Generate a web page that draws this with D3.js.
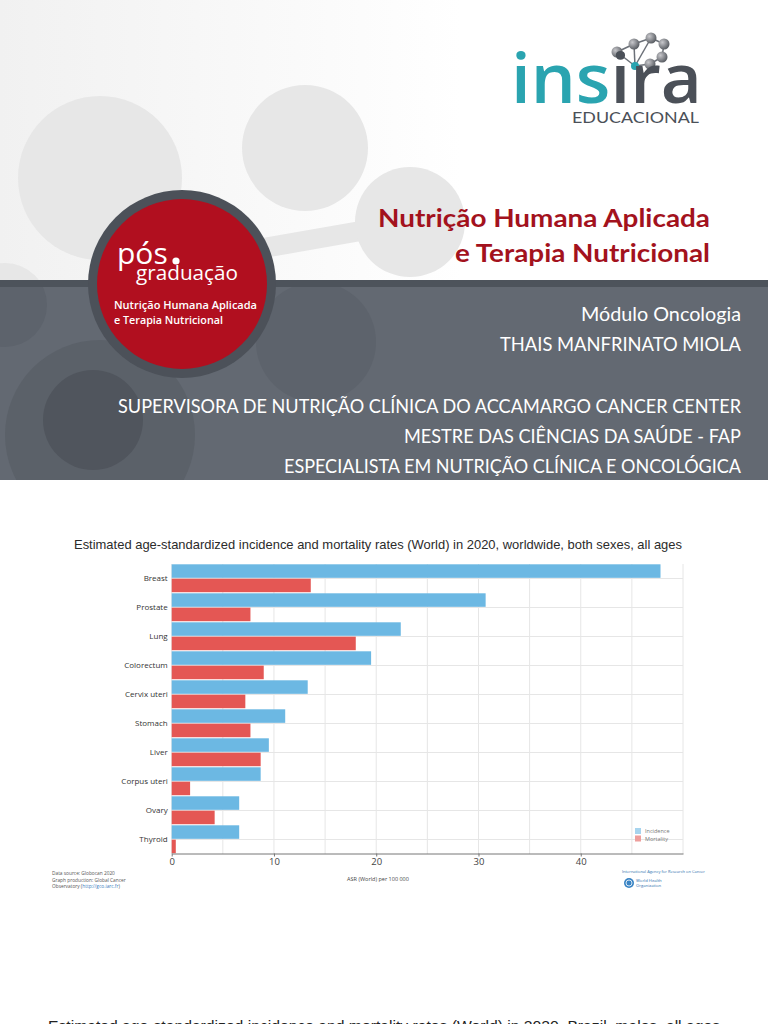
<!DOCTYPE html>
<html>
<head>
<meta charset="utf-8">
<script src="https://cdn.jsdelivr.net/npm/d3@7"></script>
<style>
  html, body { margin: 0; padding: 0; background: #fff; }
  svg { display: block; }
</style>
</head>
<body>
<script>
// ---------- DATA ----------
const categories = ["Breast", "Prostate", "Lung", "Colorectum", "Cervix uteri", "Stomach", "Liver", "Corpus uteri", "Ovary", "Thyroid"];
const incidence  = [47.8, 30.7, 22.4, 19.5, 13.3, 11.1, 9.5, 8.7, 6.6, 6.6];
const mortality  = [13.6, 7.7, 18.0, 9.0, 7.2, 7.7, 8.7, 1.8, 4.2, 0.4];
const seriesNames = ["Incidence", "Mortality"];
const xTickValues = [0, 10, 20, 30, 40];
const gridValues = [0, 5, 10, 15, 20, 25, 30, 35, 40, 45, 50];
const chartTitle = "Estimated age-standardized incidence and mortality rates (World) in 2020, worldwide, both sexes, all ages";
const nextTitle = "Estimated age-standardized incidence and mortality rates (World) in 2020, Brazil, males, all ages";
const xAxisTitle = "ASR (World) per 100 000";
const sourceLines = ["Data source: Globocan 2020", "Graph production: Global Cancer", "Observatory ("];
const slideTitle = ["Nutrição Humana Aplicada", "e Terapia Nutricional"];
const slideInfo = ["Módulo Oncologia", "THAIS MANFRINATO MIOLA"];
const slideCredentials = ["SUPERVISORA DE NUTRIÇÃO CLÍNICA DO ACCAMARGO CANCER CENTER", "MESTRE DAS CIÊNCIAS DA SAÚDE - FAP", "ESPECIALISTA EM NUTRIÇÃO CLÍNICA E ONCOLÓGICA"];

const W = 768, H = 1024;
const svg = d3.select("body").append("svg").attr("width", W).attr("height", H);
const defs = svg.append("defs");

// ---------- SLIDE HEADER ----------
const hdr = svg.append("g");
const grad = defs.append("linearGradient").attr("id", "bgGrad").attr("x1", 0).attr("x2", 1);
grad.append("stop").attr("offset", 0).attr("stop-color", "#f1f1f1");
grad.append("stop").attr("offset", 0.6).attr("stop-color", "#ffffff");
hdr.append("rect").attr("x", 0).attr("y", 0).attr("width", W).attr("height", 282).attr("fill", "url(#bgGrad)");

defs.append("clipPath").attr("id", "topClip").append("rect").attr("x", 0).attr("y", 0).attr("width", W).attr("height", 282);
defs.append("clipPath").attr("id", "bandClip").append("rect").attr("x", 0).attr("y", 287).attr("width", W).attr("height", 193);

const topDeco = hdr.append("g").attr("clip-path", "url(#topClip)").attr("fill", "#e7e7e7").attr("stroke", "none");
topDeco.append("line").attr("x1", 184).attr("y1", 262).attr("x2", 412).attr("y2", 222).attr("stroke", "#e7e7e7").attr("stroke-width", 20);
topDeco.append("circle").attr("cx", 100).attr("cy", 178).attr("r", 82);
topDeco.append("circle").attr("cx", 305).attr("cy", 148).attr("r", 63);
topDeco.append("circle").attr("cx", 410).attr("cy", 222).attr("r", 55);
topDeco.append("circle").attr("cx", 5).attr("cy", 305).attr("r", 42);

hdr.append("rect").attr("x", 0).attr("y", 280).attr("width", W).attr("height", 8).attr("fill", "#4d535b");
hdr.append("rect").attr("x", 0).attr("y", 287).attr("width", W).attr("height", 193).attr("fill", "#636972");
const bandDeco = hdr.append("g").attr("clip-path", "url(#bandClip)");
bandDeco.append("circle").attr("cx", 100).attr("cy", 435).attr("r", 95).attr("fill", "#5b6169");
bandDeco.append("circle").attr("cx", 93).attr("cy", 420).attr("r", 50).attr("fill", "#50555d");
bandDeco.append("circle").attr("cx", 316).attr("cy", 342).attr("r", 60).attr("fill", "#5d636c");
bandDeco.append("circle").attr("cx", 5).attr("cy", 305).attr("r", 42).attr("fill", "#5d636c");

// red badge
hdr.append("circle").attr("cx", 182).attr("cy", 284).attr("r", 94).attr("fill", "#4c5159");
hdr.append("circle").attr("cx", 182).attr("cy", 284).attr("r", 85).attr("fill", "#b10f1f");
hdr.append("text").attr("x", 117).attr("y", 264).attr("font-family", "Open Sans").attr("font-size", 30)
   .attr("fill", "#fff").text("pós");
hdr.append("circle").attr("cx", 176).attr("cy", 261).attr("r", 3.6).attr("fill", "#fff");
hdr.append("text").attr("x", 136).attr("y", 280).attr("font-family", "Open Sans").attr("font-size", 20)
   .attr("fill", "#fff").attr("textLength", 102).attr("lengthAdjust", "spacingAndGlyphs").text("graduação");
hdr.append("text").attr("x", 114).attr("y", 309).attr("font-family", "Open Sans").attr("font-weight", 600).attr("font-size", 10.5)
   .attr("fill", "#fff").attr("textLength", 143).attr("lengthAdjust", "spacingAndGlyphs").text(slideTitle[0]);
hdr.append("text").attr("x", 114).attr("y", 324).attr("font-family", "Open Sans").attr("font-weight", 600).attr("font-size", 10.5)
   .attr("fill", "#fff").attr("textLength", 109).attr("lengthAdjust", "spacingAndGlyphs").text(slideTitle[1]);

// red title
const rtW = [332, 255];
slideTitle.forEach((t, i) => {
  hdr.append("text").attr("x", 710 - rtW[i]).attr("y", 227 + i * 35).attr("font-family", "Lato").attr("font-weight", 700)
     .attr("font-size", 24).attr("fill", "#a3121d").attr("textLength", rtW[i]).attr("lengthAdjust", "spacingAndGlyphs").text(t);
});
// white info
const infoW = [160, 241];
slideInfo.forEach((t, i) => {
  hdr.append("text").attr("x", 741 - infoW[i]).attr("y", 321 + i * 30).attr("font-family", "Lato")
     .attr("font-size", 19).attr("fill", "#ffffff").attr("textLength", infoW[i]).attr("lengthAdjust", "spacingAndGlyphs").text(t);
});
const credW = [623, 337, 457];
slideCredentials.forEach((t, i) => {
  hdr.append("text").attr("x", 741 - credW[i]).attr("y", 413 + i * 30).attr("font-family", "Lato")
     .attr("font-size", 19).attr("fill", "#ffffff").attr("textLength", credW[i]).attr("lengthAdjust", "spacingAndGlyphs").text(t);
});

// logo
const logo = hdr.append("g");
const mol = [[651, 38], [634, 44], [664, 44], [617, 52], [662, 57], [650, 64], [635, 66]];
const links = [[0, 1], [0, 2], [1, 3], [2, 4], [1, 6], [4, 5], [5, 6], [3, 6], [0, 6]];
links.forEach(([a, b]) => logo.append("line").attr("x1", mol[a][0]).attr("y1", mol[a][1]).attr("x2", mol[b][0]).attr("y2", mol[b][1])
  .attr("stroke", "#6b7078").attr("stroke-width", 1.5));
const sph = defs.append("radialGradient").attr("id", "sph").attr("cx", 0.35).attr("cy", 0.35).attr("r", 0.7);
sph.append("stop").attr("offset", 0).attr("stop-color", "#c8c8cc");
sph.append("stop").attr("offset", 1).attr("stop-color", "#55595f");
mol.forEach((p, i) => logo.append("circle").attr("cx", p[0]).attr("cy", p[1]).attr("r", i === 6 ? 4 : 5.5)
  .attr("fill", i === 6 ? "#2aa4b0" : "url(#sph)"));
logo.append("text").attr("x", 511).attr("y", 103).attr("font-family", "Open Sans").attr("font-weight", 600)
   .attr("font-size", 68).attr("textLength", 191).attr("lengthAdjust", "spacingAndGlyphs")
   .call(t => {
     t.append("tspan").attr("fill", "#2aa4b0").text("ins");
     t.append("tspan").attr("fill", "#4b5058").text("ira");
   });
logo.append("text").attr("x", 572).attr("y", 123).attr("font-family", "Lato").attr("font-size", 15.5)
   .attr("fill", "#4b5058").attr("textLength", 127).attr("lengthAdjust", "spacingAndGlyphs").text("EDUCACIONAL");

// ---------- CHART ----------
const chart = svg.append("g");
chart.append("text").attr("x", 74).attr("y", 549).attr("font-family", "Liberation Sans").attr("font-size", 13.5)
  .attr("fill", "#2b2b2b").attr("textLength", 608).attr("lengthAdjust", "spacingAndGlyphs").text(chartTitle);

const x = d3.scaleLinear().domain([0, 50]).range([171.7, 683]);
const y = d3.scaleBand().domain(categories).range([564, 854]).paddingInner(0);
const ySub = d3.scaleBand().domain(seriesNames).range([0.3, y.bandwidth() - 0.8]).paddingInner(0.06);
const colors = { Incidence: "#6cb8e3", Mortality: "#e45754" };
const legendColors = { Incidence: "#a7d4ee", Mortality: "#ee9e9c" };

// gridlines
chart.append("g").selectAll("line.v").data(gridValues).join("line")
  .attr("x1", d => x(d)).attr("x2", d => x(d)).attr("y1", 564).attr("y2", 854)
  .attr("stroke", "#e6e6e6").attr("stroke-width", 1);
chart.append("g").selectAll("line.h").data(categories).join("line")
  .attr("x1", x(0)).attr("x2", x(50)).attr("y1", d => y(d) + y.bandwidth() / 2).attr("y2", d => y(d) + y.bandwidth() / 2)
  .attr("stroke", "#e6e6e6").attr("stroke-width", 1);

// bars
const rows = categories.map((c, i) => ({ c, Incidence: incidence[i], Mortality: mortality[i] }));
const rowG = chart.append("g").selectAll("g").data(rows).join("g").attr("transform", d => `translate(0,${y(d.c)})`);
rowG.selectAll("rect").data(d => seriesNames.map(s => ({ s, v: d[s] }))).join("rect")
  .attr("x", x(0)).attr("y", d => ySub(d.s)).attr("width", d => x(d.v) - x(0)).attr("height", ySub.bandwidth())
  .attr("fill", d => colors[d.s]);

// y labels
const yAxis = chart.append("g").attr("transform", `translate(${x(0) - 3},0)`)
  .call(d3.axisLeft(y).tickSize(0).tickPadding(1));
yAxis.select(".domain").remove();
yAxis.selectAll("text").attr("font-family", "Open Sans").attr("font-size", 8).attr("fill", "#333");

// x axis
const xAxis = chart.append("g").attr("transform", "translate(0,853.5)")
  .call(d3.axisBottom(x).tickValues(xTickValues).tickSize(3).tickSizeOuter(0).tickFormat(d3.format("d")));
xAxis.select(".domain").attr("stroke", "#777");
xAxis.selectAll(".tick line").attr("stroke", "#777");
xAxis.selectAll("text").attr("font-family", "Open Sans").attr("font-size", 9.5).attr("fill", "#444").attr("dy", "0.55em");

chart.append("text").attr("x", 378).attr("y", 881).attr("text-anchor", "middle").attr("font-family", "Open Sans")
  .attr("font-size", 5.5).attr("fill", "#444").text(xAxisTitle);

// legend
const leg = chart.append("g").attr("transform", "translate(635,828)");
seriesNames.forEach((s, i) => {
  leg.append("rect").attr("x", 0).attr("y", i * 7.5).attr("width", 6).attr("height", 6).attr("fill", legendColors[s]);
  leg.append("text").attr("x", 10).attr("y", i * 7.5 + 5).attr("font-family", "Open Sans").attr("font-size", 5.5)
    .attr("fill", "#777").text(s);
});

// source
sourceLines.forEach((t, i) => {
  const tx = chart.append("text").attr("x", 52).attr("y", 875 + i * 6.5).attr("font-family", "Open Sans")
    .attr("font-size", 4.8).attr("fill", "#555");
  tx.append("tspan").text(t);
  if (i === 2) {
    tx.append("tspan").attr("fill", "#3a7dc0").text("http://gco.iarc.fr");
    tx.append("tspan").text(")");
  }
});

// IARC / WHO
chart.append("text").attr("x", 622).attr("y", 873).attr("font-family", "Open Sans").attr("font-size", 4.3)
  .attr("fill", "#2e6fae").attr("textLength", 83).attr("lengthAdjust", "spacingAndGlyphs").text("International Agency for Research on Cancer");
chart.append("circle").attr("cx", 629).attr("cy", 883).attr("r", 5).attr("fill", "#3a84c4");
chart.append("circle").attr("cx", 629).attr("cy", 883).attr("r", 3).attr("fill", "none").attr("stroke", "#fff").attr("stroke-width", 0.8);
chart.append("text").attr("x", 636).attr("y", 882).attr("font-family", "Open Sans").attr("font-size", 4.2).attr("fill", "#2e6fae").text("World Health");
chart.append("text").attr("x", 636).attr("y", 887).attr("font-family", "Open Sans").attr("font-size", 4.2).attr("fill", "#2e6fae").text("Organization");

// next slide title (cut off at bottom)
svg.append("text").attr("x", 48).attr("y", 1031).attr("font-family", "Liberation Sans").attr("font-size", 15)
  .attr("fill", "#222").attr("textLength", 672).attr("lengthAdjust", "spacingAndGlyphs").text(nextTitle);
</script>
</body>
</html>
